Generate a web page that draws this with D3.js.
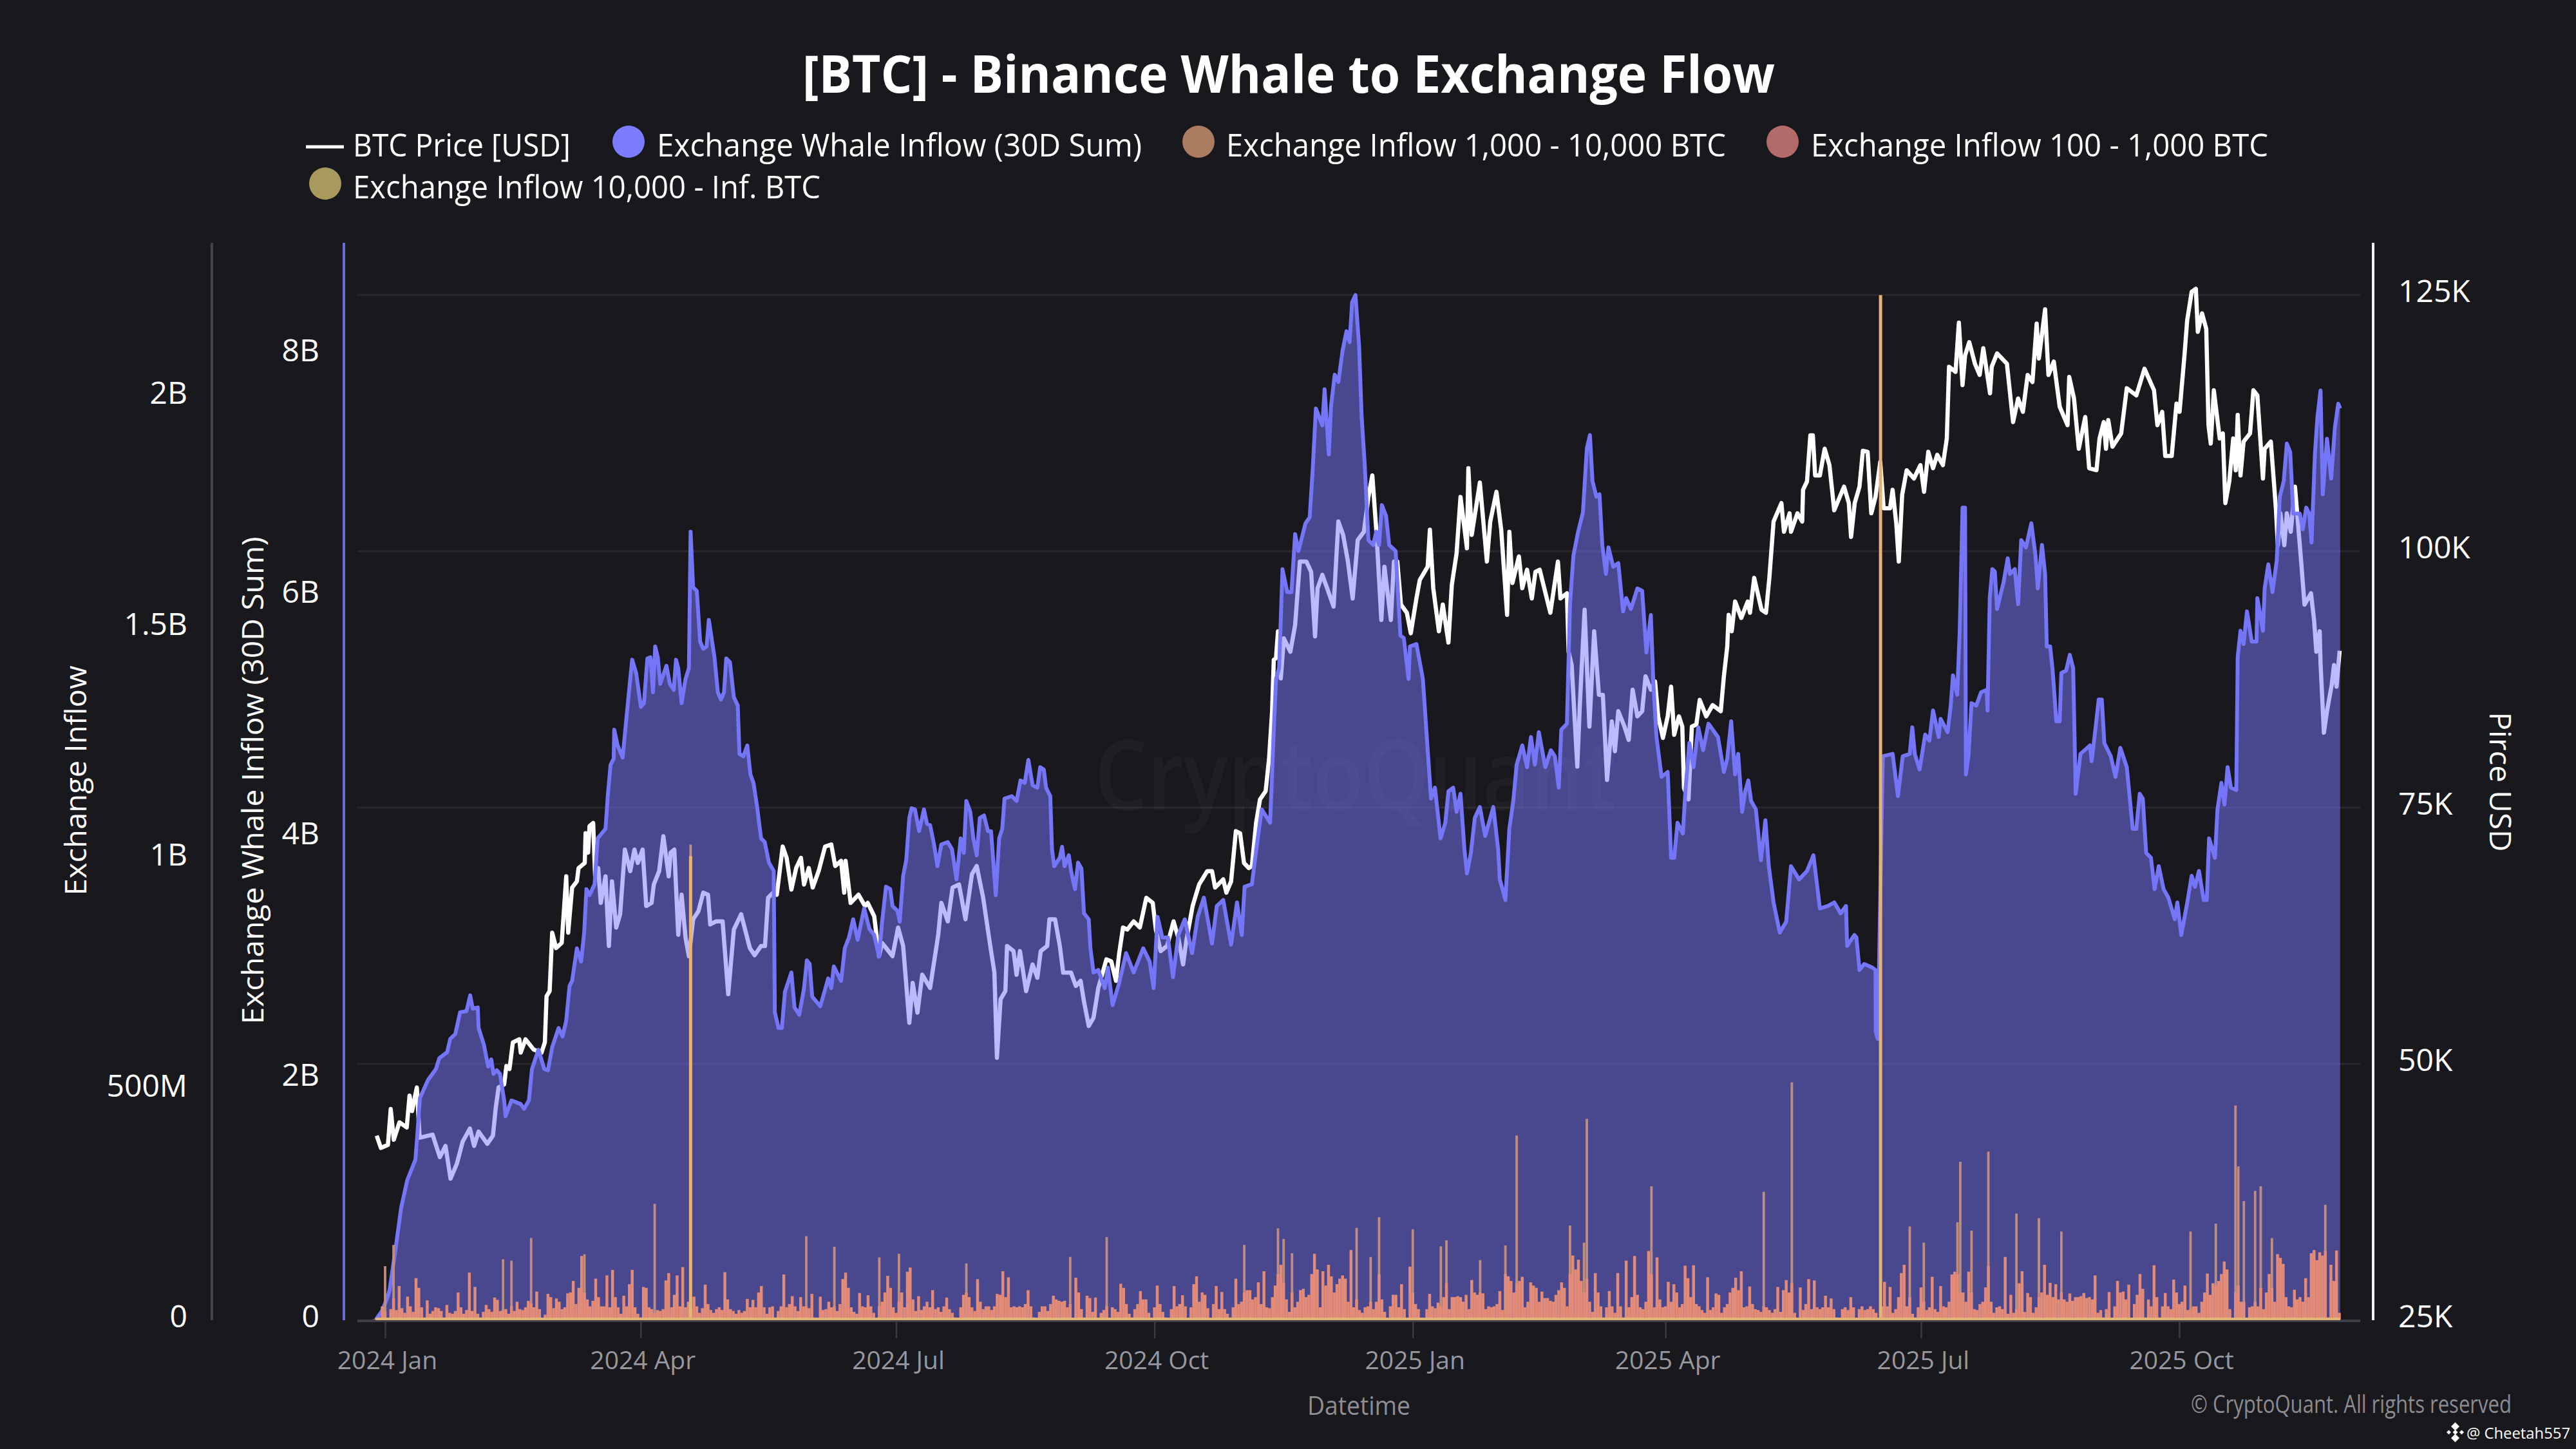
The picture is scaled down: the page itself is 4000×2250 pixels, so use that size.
<!DOCTYPE html>
<html><head><meta charset="utf-8">
<script src="https://cdn.jsdelivr.net/npm/d3@7/dist/d3.min.js"></script>
<style>html,body{margin:0;padding:0;background:#18181d}svg{display:block}text{font-family:"Open Sans","Noto Sans",sans-serif}</style>
</head><body><svg id="c" width="4000" height="2250"></svg>
<script>
// ---------- data (days counted from 2024-01-01) ----------
const xTickDates=["2024-01-01","2024-04-01","2024-07-01","2024-10-01","2025-01-01","2025-04-01","2025-07-01","2025-10-01"];
const inflowTicks=[0,0.5,1,1.5,2], inflowTickLabels=["0","500M","1B","1.5B","2B"];
const whaleTicks=[0,2,4,6,8], whaleTickLabels=["0","2B","4B","6B","8B"];
const priceTicks=[25,50,75,100,125], priceTickLabels=["25K","50K","75K","100K","125K"];
const legendLabels=["BTC Price [USD]","Exchange Whale Inflow (30D Sum)","Exchange Inflow 1,000 - 10,000 BTC","Exchange Inflow 100 - 1,000 BTC","Exchange Inflow 10,000 - Inf. BTC"];

const whaleDays=[-3.4,-1,1,1.6,3.9,5.7,7.9,10.8,11.8,12.4,15.3,18.1,19.3,22.1,23.2,25,26.7,29,30.3,31.2,33,33.3,35.2,36.7,37.8,38.6,39.8,40.9,42.4,42.9,45,48.3,49.5,51.2,52.3,54.6,56.7,58,59.5,61.8,63.2,64.5,65.7,66.6,68.3,69.8,70.9,71.7,72.8,74.6,75.7,78.5,79.3,80.3,81.4,81.6,82.8,84.6,86,87.3,88,89.4,91.1,92.2,93.4,94.5,95.4,96.2,97.1,98,100.2,101.4,102.8,103.6,104.4,105.6,107,108.2,108.8,109.7,111,112.2,113.3,114.5,115.3,117.3,118.5,119.6,120.7,121.5,122.8,124.2,125.6,126.2,127.6,129,130.1,131.2,132.5,133.9,135.2,136.7,138.4,138.8,140.1,141.3,142.4,144.7,145.8,147.5,149.2,150.2,151.2,152.1,155,157.8,158.9,159.8,162.4,163.7,165.2,166.7,168.3,170.6,172.5,174.2,175.9,177,178.4,179.9,180.7,182.5,183.3,184.5,185.6,186.7,187.5,188.7,190.2,191.9,193,194.1,195.5,196.7,198.1,200.4,201.9,203.5,205,206.1,207,208.4,209.5,210.7,211.8,213.3,214.7,215.8,217.5,218.7,219.8,220.6,223.2,224.9,226.3,227.8,229.1,230.6,232.3,233.3,234.6,235.4,236.9,237.5,238.3,240.3,241.1,242,243.5,244.3,245.7,246.8,248,248.9,250.6,251.2,252.3,254,256.3,257.4,259.1,261.4,263.9,266.6,270,272.3,273.7,275.1,276.8,278.8,280.6,282.5,284.8,287.4,289.4,291.6,294.5,296.2,298.5,301.3,303.4,305.1,306.1,308.7,310.5,312.2,315.2,316.4,317.3,318.4,319.6,321.3,322.8,324.1,325.3,327.8,329.3,330.4,331.5,333.8,334.6,336.1,336.9,338.2,339.5,341,342.4,343.5,344.4,345.6,346.9,347.8,348.9,350.2,351.9,353,354,355,356.5,357.6,359.9,361.6,362.8,364.5,365,367.3,369.6,371,372.5,373.9,375.9,377.6,378.7,380.4,381.6,383,384.4,385.3,386.7,388.1,389.9,391.8,394.7,396.4,397,399,400.4,401.8,403,405,406.7,408.1,409.5,410.9,413.2,415.2,416.6,418,418.9,420.9,422,423.2,424.9,426.6,428,429.1,430,431.4,432.5,433.5,434.8,435.7,437.4,439.2,440.9,442,443.7,446,447.7,449.2,450.8,451.7,452.8,454.6,456.8,458,459.1,460.3,462.2,463.1,464.5,466,467.7,469.4,471.3,474.7,476.8,478,479.4,480.8,481.9,483.3,484.4,485.5,486.5,488.2,490,491.6,492.8,494.5,496.7,499,500.7,503.6,506.4,508.7,511,513.8,516.1,518.4,520.3,520.7,523.3,524,525.1,526.8,529.7,530.8,530.9,531.6,533.4,536.9,538.8,540.5,543,543.9,544.8,546.5,548.5,550,551.3,553.3,554,556.5,557.6,558.4,559.9,560.8,561.8,562.7,563,563.9,565,566.7,568.4,570.4,570.7,571.5,572.4,573.3,574.1,576.4,577.9,578.7,580.4,581.6,582.7,584.4,586.3,587.8,588.6,590.1,591.2,591.8,593,593.9,595.2,596.4,597,598.7,600,601.2,602.1,603.8,607.2,607.8,609.2,610.3,611.4,612.3,614.6,616.3,618,620.3,622.4,623.7,624.9,626,627.2,628.9,630.2,631.7,633.4,635.1,637.4,638.3,639.7,642,643.4,644.6,646,647.7,648.8,649.6,651.7,652.6,654,655.1,656.2,657.4,659.3,659.8,660.8,661.9,663.1,664.8,666.5,666.8,668.8,669.4,670.7,672.2,673.7,674.8,676.2,677.3,678.5,679.6,681.9,683,684.2,685.3,686.1,687.3,688.2,689.3,690.1,691.6,693.1,694.4,695.6,696.3];
const whaleValues=[0,0.08,0.2,0.25,0.62,0.93,1.16,1.33,1.64,1.84,1.99,2.08,2.17,2.22,2.33,2.37,2.55,2.56,2.69,2.58,2.59,2.42,2.28,2.10,2.16,2.04,2.07,2.04,1.82,1.69,1.82,1.79,1.75,1.82,2.08,2.24,2.08,2.07,2.26,2.42,2.35,2.48,2.77,2.81,3.08,2.97,3.21,3.57,3.52,3.61,3.99,4.07,4.34,4.6,4.65,4.89,4.76,4.66,5.0,5.31,5.47,5.36,5.08,5.11,5.48,5.49,5.2,5.58,5.49,5.27,5.42,5.27,5.22,5.47,5.4,5.11,5.31,5.4,6.53,6.07,6.04,5.62,5.56,5.58,5.8,5.49,5.2,5.14,5.2,5.48,5.45,5.16,5.09,4.69,4.67,4.76,4.52,4.45,4.25,3.99,3.96,3.79,3.72,2.55,2.42,2.42,2.72,2.88,2.59,2.53,2.75,2.98,2.95,2.68,2.6,2.83,2.75,2.93,2.81,3.08,3.17,3.32,3.15,3.41,3.24,3.19,3.01,3.3,3.59,3.57,3.43,3.39,3.3,3.68,3.81,4.16,4.24,4.23,4.05,4.23,4.11,4.1,3.94,3.76,3.94,3.96,3.9,3.65,3.99,3.87,4.3,4.21,3.99,3.85,4.16,4.18,4.05,4.05,3.52,3.99,4.07,4.32,4.34,4.3,4.47,4.45,4.64,4.43,4.41,4.58,4.56,4.41,4.34,3.9,3.76,3.83,3.92,3.76,3.85,3.72,3.57,3.79,3.74,3.37,3.32,3.08,2.88,2.9,2.75,2.92,2.61,2.79,3.04,2.88,3.08,2.97,2.75,3.34,3.17,3.17,2.84,3.19,3.32,3.04,3.34,3.5,3.12,3.43,3.48,3.11,3.46,3.19,3.59,3.61,3.94,4.23,4.12,4.83,5.31,5.4,6.22,6.03,6.03,6.51,6.37,6.6,6.65,7.06,7.55,7.41,7.71,7.17,7.57,7.83,7.77,8.03,8.19,8.1,8.43,8.49,8.06,7.48,7.08,6.46,6.42,6.53,6.42,6.75,6.66,6.42,6.37,5.67,5.65,5.31,5.58,5.6,5.31,4.83,4.32,4.41,3.99,4.12,4.38,4.41,4.21,4.36,3.9,3.7,3.87,4.16,4.25,4.01,4.25,3.9,3.65,3.48,4.07,4.3,4.6,4.76,4.58,4.83,4.6,4.87,4.58,4.72,4.67,4.41,4.89,4.94,5.93,6.33,6.53,6.69,7.22,7.33,6.95,6.82,6.84,6.42,6.18,6.4,6.24,6.27,5.87,5.98,5.89,6.06,6.04,5.53,5.84,5.27,4.83,4.5,4.54,3.83,3.83,4.12,4.03,4.38,4.78,4.58,4.91,4.72,4.94,4.83,4.54,4.65,4.96,4.52,4.69,4.21,4.38,4.47,4.3,4.23,3.81,4.14,3.76,3.46,3.21,3.3,3.76,3.65,3.72,3.85,3.41,3.43,3.46,3.37,3.43,3.1,3.19,3.17,2.9,2.95,2.92,2.9,2.39,2.33,4.67,4.69,4.34,4.67,4.69,4.91,4.69,4.56,4.85,4.8,5.05,4.83,4.98,4.87,5.09,5.34,5.18,5.71,6.73,6.73,4.52,4.67,5.11,5.09,5.2,5.22,5.05,5.98,6.22,6.2,5.89,6.11,6.31,6.18,6.22,5.93,6.46,6.4,6.6,6.33,6.06,6.42,6.18,5.58,5.58,5.38,4.96,4.96,5.36,5.38,5.51,5.4,4.36,4.69,4.76,4.63,4.91,5.14,5.14,4.78,4.67,4.5,4.74,4.58,4.07,4.07,4.36,4.32,3.87,3.83,3.57,3.76,3.57,3.5,3.32,3.46,3.19,3.48,3.68,3.59,3.72,3.48,3.48,3.99,3.83,4.23,4.45,4.27,4.58,4.41,4.39,5.49,5.71,5.6,5.87,5.62,5.62,5.98,5.71,6.06,6.26,6.03,6.29,6.82,6.95,7.26,7.19,6.68,6.68,6.55,6.73,6.68,6.44,7.17,7.48,7.7,6.84,7.3,6.97,7.39,7.59,7.55];

const priceDays=[-3,-1.5,1,2,3.1,5.1,7.7,8.7,9.6,11.3,12.3,16.9,19.5,21.5,23.3,25.6,27.6,30.2,31.7,33.3,36.4,38.4,39.4,40.4,42.4,43.2,44.3,45.5,47.8,48.3,50,52.9,55.7,56.9,57.5,58.6,59.5,60.9,62.9,64.5,65.2,66.6,68.3,68.9,71.1,71.4,72.3,72.8,74.1,74.8,75.9,76.8,78.5,79.7,80.8,82.3,83.7,85.4,87.3,88.8,90,91.7,93,94.9,95.7,97.6,99.1,101,101.7,103,104.4,105.6,107,108.2,109.7,111.6,113.3,115,115.8,117.9,120.2,122.2,124.2,126.8,129.9,131.6,133.9,135.3,136.4,138.2,139.5,141.6,143,144.7,146.4,148.1,149.2,150.9,152.3,154.4,156.7,158.9,160.3,162.4,163.5,164,165.8,168.6,170.9,171.9,174.2,175.9,177,179.3,180.7,182.7,184.5,186.7,187.9,189.6,191.3,194.1,197,198.1,200.4,202.1,204.4,206.7,209,210.7,213,215.2,217,217.9,219.2,220.9,221.5,223.8,224.9,226.1,228.3,230.6,232.3,233.5,235.8,236.6,238.6,240.3,241.5,244.3,246,247.7,248.9,250.6,252.3,254,256.9,258.6,260.3,261.4,262.8,264.3,266.6,268.8,271.1,273.4,274.5,276.2,278.5,280.8,282.5,284.2,285.4,287.6,289.9,292.8,294.5,295.6,298.5,299.6,301.3,303,304.5,305.9,307.6,308.7,310.2,311.6,313.6,314.8,315.9,316.5,317.3,318,319,320.1,322.4,324.1,325.8,328.1,329.8,331.2,332.1,333.8,335.5,337.8,339.5,341.2,342.9,344.6,346.4,348.6,350.2,351.6,353,354.8,355.9,358.2,359.3,360.5,361.8,363.9,365.3,367.3,368.5,371.3,372.1,373.3,375.3,376.7,378.7,379.9,381.6,383,385.3,385.8,387,389.9,392.4,393.6,395.8,397.5,399.6,400.4,401.5,403.8,405,406.7,408.4,409.7,411.2,415,417.7,418.6,420.9,421.5,422.6,424.6,425.5,427.2,428.9,430.6,432.3,433.7,435.2,436.9,438,439.2,441.4,442.9,444.3,446,447.7,448.9,450.8,452.3,453.4,455.1,456.8,458,459.1,460.8,462,462.6,464.2,465.4,467,468.2,470.5,472.8,475.7,476.8,478,478.5,479.6,480.8,483,485.3,486.1,487.6,490.2,491.8,493,494.5,497.3,498.2,500.2,500.7,503,504.7,505,506.4,507.6,508.5,509.3,511,512.7,514.4,516.1,519.6,521.3,522.1,523.4,525.1,526.3,528,529.3,530.8,532.5,533.7,536,536.9,538.2,539.1,540.3,541.9,544.5,546.8,548.1,549.6,551.3,552.8,554.8,556.2,557,559.3,560.5,561.8,562.7,564.2,566.2,567.9,569.2,571.6,572.2,574.1,577.6,579.8,581.6,583.3,585,586.7,588.2,589,591.2,592.4,594.3,596.4,599.2,599.8,601.5,603.2,605.5,606.9,609.5,610.6,612.1,612.9,613.7,615.2,618.3,620.3,623.7,626.6,630,631.2,632.9,634,636.3,638,639.1,640.9,641.8,643.4,644.9,645.6,647.1,648.6,649.4,650.2,651.3,653.4,654.5,655.4,656.8,658.2,659.1,659.8,660.8,661.9,664.2,665.4,666.8,668.8,669.4,671.6,673.4,674.1,675,676.4,677.3,678.7,680.2,682.4,683.6,685.9,687,687.8,689,689.3,690.5,691.6,693.3,694.1,695,696.1];
const priceValues=[43,41.8,42.1,45.6,42.6,44.3,43.8,46.9,45.4,47.7,42.8,43.1,40.9,42,38.8,40.3,42.4,43.7,42,43.4,42.2,43,45.7,47.7,48,49.8,49.5,52.1,52.4,51.1,52.4,51.4,51.1,52.1,56.6,57.1,62.8,61.3,61.8,68.3,62.8,67.2,67.8,69.1,69.6,72.5,70.6,73.2,73.5,68.3,69.1,65.7,68.3,61.5,67.8,63.3,64.6,70.9,68.8,70.9,69.6,70.9,65.4,65.7,67.5,68.8,72.2,68.3,70.6,70.9,62.6,66.5,62.3,60.5,64.1,64.9,66.7,66.5,63.6,63.9,63.9,56.8,63.1,64.6,61.3,60.6,61.5,61.5,66.2,66.7,66.5,71.2,70.1,67,69.1,70.1,67.5,69.1,67.2,68.8,71.2,71.4,69.3,69.8,66.7,69.8,65.7,66.5,65.4,65.7,64.4,60.5,61.8,61,60.5,63.3,61.5,54,57.9,55,58.7,57.4,62.6,65.7,63.9,67.2,67.5,64.1,68.5,69.3,66.2,62.1,58.9,50.6,56.3,57.1,61.5,61,58.7,61,57.1,59.7,58.4,61,61.5,64.1,64.1,61.5,58.9,58.9,57.6,58.1,56.1,53.7,54.5,57.4,60.2,60,58.1,60.7,63.3,63.1,63.9,63.3,66.2,65.7,63.1,61,61.5,63.9,62.3,59.7,62.1,65.4,67.5,68.8,68.8,67.2,68,66.7,67.8,72.7,72.5,69.6,69.1,69.3,73.5,75.8,76.6,79.7,84.4,89.4,89.6,92.2,87.6,91.5,90.2,92.8,99,99,98,91.7,96.4,97.7,96.4,94.6,102.9,101.6,99,95.4,101.1,101.9,105.3,107.4,102.1,93.3,98.5,93.3,99,99,94.8,94,92,95.4,97.2,98.5,102.1,96.4,92.2,94.8,91.1,96.7,99.8,105.3,100.3,108.1,101.6,106.7,99,102.9,105.8,102.1,93.8,101.9,96.9,99.5,96.4,98.2,95.4,98,98.2,94,99,95.4,95.9,90.2,88.9,79,85,94.3,82.9,92.2,86,86,77.7,83.4,80.5,84.4,82.9,81.6,86.5,83.9,84.4,87.8,86.5,87.3,83.9,81.8,83.9,86.8,82.1,83.9,82.9,76.9,75.8,82.9,83.1,85.5,83.9,85,84.4,87.8,90.7,93.8,92.2,95.1,93.5,95.1,94,97.4,94.3,94,97.4,102.9,104.7,101.9,103.7,101.9,103.7,102.9,106,106.8,111.3,111.3,107.4,107.4,110,108.4,104,106.3,104.7,101.4,104.7,106.3,109.8,109.7,103.7,105.3,108.7,104.2,104.2,106,102.7,99,105.5,107.9,107.1,108.4,105.8,109.7,108.1,109.4,108.4,111,118,117.5,122.3,116.2,119.1,120.4,118.3,117.2,119.8,115.4,118,119.3,118.3,112.6,114.9,113.6,117.2,116.5,122.2,118.8,123.6,117.2,118.5,114.1,112.3,117,114.9,110,113.1,108.1,107.9,111,112.6,110,112.8,110.2,111.5,115.9,115.2,117.8,115.7,112.3,113.6,109.3,109.3,114.4,113.6,119.3,122.5,125.3,125.6,121.4,123.2,121.7,112.3,110.5,115.7,111,111.5,104.7,106.8,111,107.9,113.3,107.4,110.7,111.5,115.7,115.2,107.1,110,110.7,104.2,100.6,103.7,100.6,103.7,101.9,106.3,99,94.8,95.9,93.3,90.2,92.2,89.1,82.3,84.4,87,88.9,86.8,90.3];

// Exchange Inflow 100 - 1,000 BTC (millions), one value per day from inflow100StartDay
const inflow100StartDay=-4;
const inflow100=[2,4,6,30,
20,5,24,48,22,74,26,16,51,30,18,91,70,28,6,43,14,20,28,26,20,6,33,16,14,20,60,28,14,22,103,20,72,14,6,18,33,24,18,49,
44,20,22,24,14,30,20,40,24,22,28,42,36,28,62,24,3,12,57,50,26,47,40,24,28,58,60,85,35,70,139,60,45,30,42,90,50,30,30,97,
28,109,50,28,14,53,30,78,109,28,14,6,72,70,28,24,16,22,20,24,86,102,28,55,97,30,115,28,40,24,51,30,16,26,77,35,22,16,24,28,
22,104,45,24,20,14,22,16,20,46,28,44,28,60,74,28,14,28,30,6,20,30,99,28,35,52,30,20,50,30,30,26,57,6,3,51,22,24,40,28,
30,20,35,89,103,70,28,18,14,59,30,28,54,30,16,3,30,40,60,96,70,28,16,40,60,28,105,114,45,20,52,22,30,40,28,65,24,28,18,30,
49,24,16,6,4,28,55,60,50,28,20,89,40,24,30,30,22,30,57,55,106,50,93,28,30,28,30,28,35,65,30,6,3,18,30,30,20,35,53,45,
42,40,42,28,35,4,92,60,24,6,53,48,18,49,4,16,22,30,4,28,24,18,79,70,35,14,6,24,35,63,45,45,16,3,28,75,35,18,6,3,
24,74,30,35,54,30,3,28,78,95,40,60,55,26,4,35,74,24,61,24,14,6,28,90,35,40,60,65,65,45,50,82,35,106,28,26,50,75,100,120,
80,45,18,60,28,40,65,68,50,55,100,144,110,28,106,75,120,95,60,78,90,97,90,40,152,28,45,22,16,28,30,40,24,40,100,45,18,3,30,55,
55,28,78,24,3,116,60,35,24,4,4,24,57,30,26,38,30,50,80,24,50,50,52,50,40,55,24,87,60,55,60,58,24,30,28,30,35,63,22,100,
95,85,60,80,85,94,28,40,82,75,70,40,62,48,48,42,40,55,65,82,70,30,100,140,110,131,85,60,90,40,18,102,60,30,6,28,63,30,16,102,
30,6,129,28,50,139,55,28,24,40,150,100,28,136,45,28,30,83,40,78,60,28,35,118,91,50,119,35,30,22,16,93,22,28,58,55,16,28,35,60,
70,92,65,106,28,30,73,35,24,22,18,30,28,22,16,24,72,18,65,87,60,80,16,3,71,22,35,89,24,86,28,24,28,53,28,47,24,6,3,24,
28,22,50,28,3,24,30,22,24,30,24,16,3,30,83,30,72,16,24,50,102,120,30,50,14,6,28,71,40,22,28,94,24,18,74,30,28,40,99,105,
100,60,60,40,105,60,24,22,35,40,71,117,40,16,28,30,24,137,14,55,16,24,80,106,18,59,50,16,28,50,60,120,55,81,50,78,45,60,45,40,
58,42,50,50,52,59,48,50,45,97,16,22,6,24,61,3,30,85,60,62,45,77,4,35,55,100,68,6,45,30,119,50,6,30,59,30,24,88,60,35,
40,75,22,24,30,30,16,40,60,101,55,80,75,85,100,127,110,24,3,60,75,40,40,3,28,30,40,30,70,24,60,100,70,40,143,135,122,50,30,28,
66,45,50,40,91,50,145,152,130,147,140,150,6,120,85,151,16];

// Exchange Inflow 1,000 - 10,000 BTC (millions): the days on which it stands above the rest
const inflow1000Days=[0,3,42,45,52,71,96,108.8,150,160,176,183,207,244,257,306,318,320,323,346,351,354,366,376,378,390,399,403,422,427,428,451,491,501,543,548,560,561,565,571,581,589,597,643,652,659,660,662,666,668,672,691];
const inflow1000=[117,163,132,129,178,143,252,1030,182,159,136,144,123,137,180,163,199,176,145,200,137,223,197,160,173,130,162,400,205,168,436,290,278,515,203,168,212,343,194,365,231,221,192,192,209,465,333,258,280,290,178,250];

// Exchange Inflow 10,000 - Inf. BTC (millions)
const inflow10000Days=[108.8,532.6];
const inflow10000=[1005,2220];

// ---------- layout ----------
const base=Date.UTC(2024,0,1);
const toDate=d=>new Date(base+d*864e5);
const svg=d3.select("#c");
const bg="#18181d";
svg.append("rect").attr("width",4000).attr("height",2250).attr("fill",bg);
const x=d3.scaleUtc().domain([new Date("2024-01-01T00:00Z"),new Date("2025-10-01T00:00Z")]).range([598,3384]);
const xd=d=>x(toDate(d));
const yInflow=d3.scaleLinear().domain([0,2]).range([2050,616]);
const yWhale=d3.scaleLinear().domain([0,8]).range([2050,550]);
const yPrice=d3.scaleLinear().domain([25,125]).range([2050,458]);
const zip=(a,b)=>a.map((d,i)=>[d,b[i]]);

// grid
svg.append("g").selectAll("line").data(priceTicks.slice(1)).join("line")
 .attr("x1",555).attr("x2",3665).attr("y1",d=>yPrice(d)).attr("y2",d=>yPrice(d)).attr("stroke","#27272e").attr("stroke-width",3);

// watermark
svg.append("text").attr("x",1700).attr("y",1258).attr("font-size",150).attr("font-weight",600).attr("fill","#ffffff").attr("fill-opacity",0.035).attr("textLength",810).attr("lengthAdjust","spacingAndGlyphs").text("CryptoQuant");

// price line (under the area)
const priceLine=d3.line().x(d=>xd(d[0])).y(d=>yPrice(d[1]));
svg.append("path").attr("d",priceLine(zip(priceDays,priceValues))).attr("fill","none").attr("stroke","#ffffff").attr("stroke-width",6.5).attr("stroke-linejoin","round");

// whale area + line
const whale=zip(whaleDays,whaleValues);
svg.append("path").attr("d",d3.area().x(d=>xd(d[0])).y0(yWhale(0)).y1(d=>yWhale(d[1]))(whale)).attr("fill","#7a76ff").attr("fill-opacity",0.5);
svg.append("path").attr("d",d3.line().x(d=>xd(d[0])).y(d=>yWhale(d[1]))(whale)).attr("fill","none").attr("stroke","#7575f7").attr("stroke-width",6).attr("stroke-linejoin","round");

// bars
const barTop=(g,days,vals,w,col)=>g.selectAll("rect").data(zip(days,vals)).join("rect")
 .attr("x",d=>xd(d[0])-w/2).attr("width",w).attr("y",d=>yInflow(d[1]/1000)).attr("height",d=>yInflow(0)-yInflow(d[1]/1000)).attr("fill",col);
barTop(svg.append("g"),inflow1000Days,inflow1000,3.8,"#bd8d80");
barTop(svg.append("g"),inflow100.map((_,i)=>i+inflow100StartDay),inflow100,4.5,"#e28b78");
barTop(svg.append("g"),inflow10000Days,inflow10000,5,"#e2b478");

// x baseline and ticks
svg.append("line").attr("x1",555).attr("x2",3665).attr("y1",2051).attr("y2",2051).attr("stroke","#3e3e46").attr("stroke-width",4);
svg.append("line").attr("x1",xd(-3.4)).attr("x2",xd(696.3)).attr("y1",2048).attr("y2",2048).attr("stroke","#e2b478").attr("stroke-width",4);
const xAxis=d3.axisBottom(x).tickValues(xTickDates.map(d=>new Date(d+"T00:00Z"))).tickFormat(d3.utcFormat("%Y %b")).tickSize(26).tickPadding(20);
const gx=svg.append("g").attr("transform","translate(0,2052)").call(xAxis);
gx.select(".domain").remove();
gx.selectAll("line").attr("stroke","#3a3a42").attr("stroke-width",2.5);
gx.selectAll("text").attr("fill","#97979d").attr("font-size",39).attr("dx",3).attr("font-weight",400).style("font-family",'"Open Sans"');

// y axes
function yAxis(tx,scale,ticks,labels,orient,color,anchorLabelX){
 const ax=(orient==="left"?d3.axisLeft(scale):d3.axisRight(scale)).tickValues(ticks).tickFormat((d,i)=>labels[i]).tickSize(0).tickPadding(orient==="left"?tx-anchorLabelX:anchorLabelX-tx);
 const g=svg.append("g").attr("transform",`translate(${tx},0)`).call(ax);
 g.select(".domain").remove();
 g.append("line").attr("y1",377).attr("y2",2050).attr("stroke",color).attr("stroke-width",4);
 g.selectAll("text").attr("fill","#ffffff").attr("font-size",48).attr("dy","0.22em");
}
yAxis(329,yInflow,inflowTicks,inflowTickLabels,"left","#43434b",291);
yAxis(534,yWhale,whaleTicks,whaleTickLabels,"left","#6c6cd8",496);
yAxis(3685,yPrice,priceTicks,priceTickLabels,"right","#f4f4f4",3724);

// axis titles
const rot=(tx,ty,a,txt,len)=>svg.append("text").attr("transform",`translate(${tx},${ty}) rotate(${a})`).attr("text-anchor","middle").attr("fill","#fff").attr("font-size",46).attr("textLength",len).attr("lengthAdjust","spacingAndGlyphs").text(txt);
rot(134,1212,-90,"Exchange Inflow",357);
rot(409,1212,-90,"Exchange Whale Inflow (30D Sum)",757);
rot(3866,1214,90,"Pirce USD",217);

// title
svg.append("text").attr("x",2001).attr("y",144).attr("text-anchor","middle").attr("fill","#fff").attr("font-size",80).attr("font-weight",700).attr("textLength",1510).attr("lengthAdjust","spacingAndGlyphs").text("[BTC] - Binance Whale to Exchange Flow");

// legend
const ltext=(tx,ty,txt,len)=>svg.append("text").attr("x",tx).attr("y",ty).attr("fill","#fff").attr("font-size",50).attr("textLength",len).attr("lengthAdjust","spacingAndGlyphs").text(txt);
svg.append("line").attr("x1",475).attr("x2",534).attr("y1",228).attr("y2",228).attr("stroke","#fff").attr("stroke-width",5);
ltext(548,243,legendLabels[0],338);
svg.append("circle").attr("cx",976).attr("cy",220).attr("r",25).attr("fill","#7b7bff");
ltext(1020,243,legendLabels[1],753);
svg.append("circle").attr("cx",1861).attr("cy",220).attr("r",25).attr("fill","#ab7c5f");
ltext(1904,243,legendLabels[2],776);
svg.append("circle").attr("cx",2768).attr("cy",220).attr("r",25).attr("fill","#b26b68");
ltext(2812,243,legendLabels[3],710);
svg.append("circle").attr("cx",505).attr("cy",285).attr("r",25).attr("fill","#a89a5c");
ltext(548,308,legendLabels[4],726);

// footer
svg.append("text").attr("x",2110).attr("y",2197).attr("text-anchor","middle").attr("fill","#8e8e94").attr("font-size",40).attr("textLength",160).attr("lengthAdjust","spacingAndGlyphs").text("Datetime");
svg.append("text").attr("x",3402).attr("y",2194).attr("fill","#8b8b90").attr("font-size",38).attr("textLength",498).attr("lengthAdjust","spacingAndGlyphs").text("© CryptoQuant. All rights reserved");
svg.append("text").attr("x",3830).attr("y",2234).attr("fill","#fff").attr("font-size",24).attr("textLength",161).attr("lengthAdjust","spacingAndGlyphs").text("@ Cheetah557");
const logo=[[0,-9,6.5],[0,9,6.5],[-10,0,3.5],[10,0,3.5],[0,0,4]];
svg.append("g").attr("fill","#fff").selectAll("path").data(logo).join("path")
 .attr("d",d=>`M0,${-d[2]}L${d[2]},0L0,${d[2]}L${-d[2]},0Z`)
 .attr("transform",d=>`translate(${3812.5+d[0]},${2224+d[1]})`);
</script></body></html>
